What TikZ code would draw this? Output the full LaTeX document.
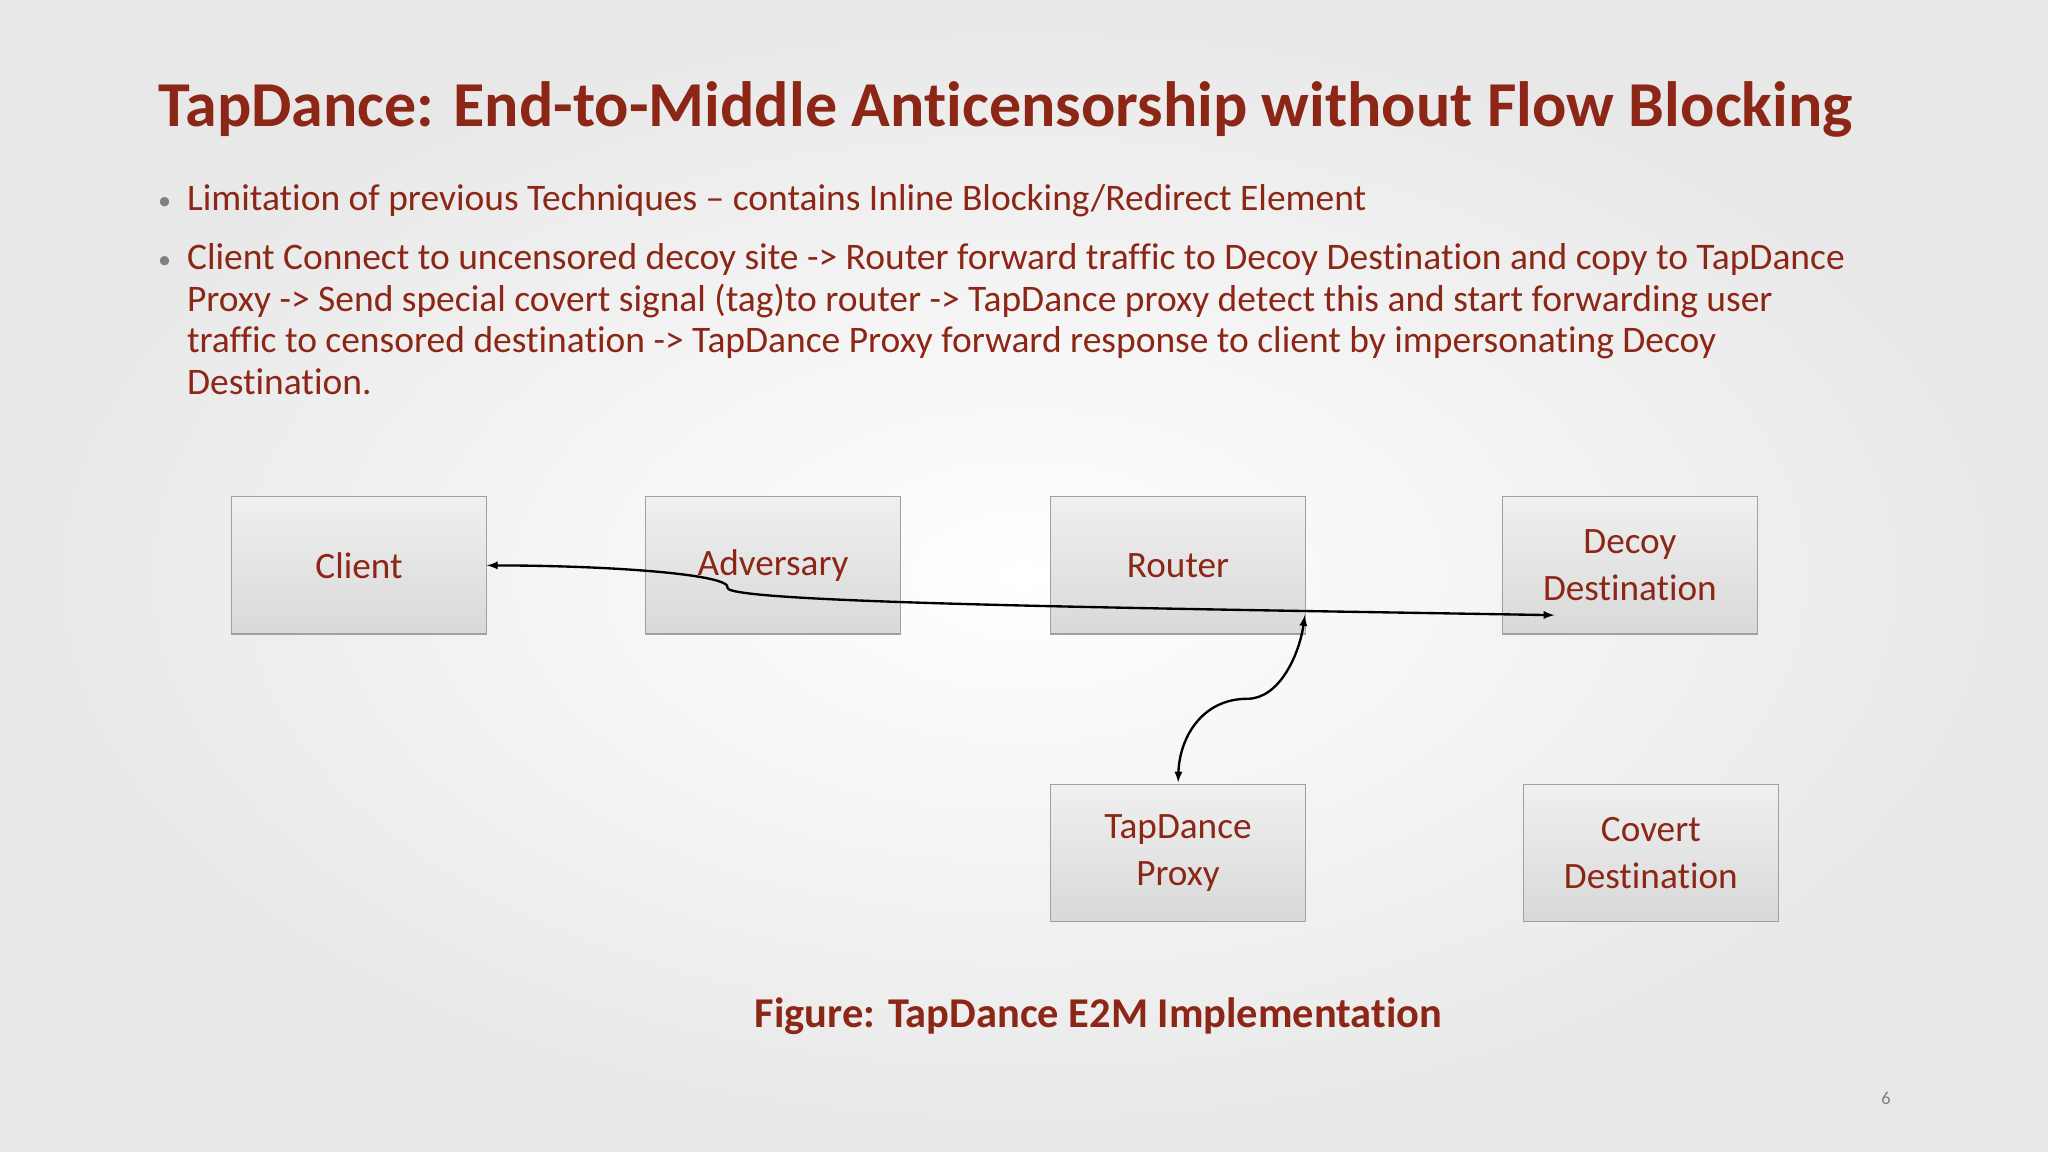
\documentclass[tikz,border=0pt]{standalone}
\usepackage{fontspec}
\setmainfont[Ligatures=NoCommon]{Carlito}
\definecolor{dred}{RGB}{140,38,22}
\definecolor{bx}{RGB}{160,160,160}
\begin{document}
\begin{tikzpicture}[x=1pt,y=-1pt,
  box/.style={draw=bx,line width=0.8pt,top color=gray!12,bottom color=gray!30,minimum width=195pt,minimum height=105pt,anchor=north west,text=dred,font=\fontsize{28.5}{36}\selectfont,align=center,inner sep=0pt},
  bul/.style={anchor=north west,text=dred,font=\fontsize{28.7}{32}\selectfont,align=left,inner sep=0pt},
  con/.style={line width=1.8pt,-latex}]
\useasboundingbox (0,0) rectangle (1568,882);
\shade[inner color=white,outer color=gray!18] (0,0) rectangle (1568,882);
\node[anchor=west,text=dred,font=\fontsize{49}{58}\selectfont\bfseries] (title) at (118,84) {TapDance: End-to-Middle Anticensorship without Flow Blocking};
\node[bul] (b1) at (143,141) {Limitation of previous Techniques -- contains Inline Blocking/Redirect Element};
\node[bul] (b2) at (143,186) {Client Connect to uncensored decoy site -> Router forward traffic to Decoy Destination and copy to TapDance\\Proxy -> Send special covert signal (tag)to router -> TapDance proxy detect this and start forwarding user\\traffic to censored destination -> TapDance Proxy forward response to client by impersonating Decoy\\Destination.};
\node[text=gray,font=\fontsize{20}{24}\selectfont] (d1) at (126,156) {•};
\node[text=gray,font=\fontsize{20}{24}\selectfont] (d2) at (126,201) {•};
\node[box] (client) at (177,380) {Client};
\node[box] (adv) at (494,380) {Adversary};
\node[box] (router) at (804,380) {Router};
\node[box] (decoy) at (1150,380) {Decoy\\Destination};
\node[box] (proxy) at (804,600) {TapDance\\Proxy};
\node[box] (covert) at (1166,600) {Covert\\Destination};
\coordinate (cl) at (client.east);
\coordinate (de) at (1190,471);
\draw[con,latex-latex] (cl) .. controls (470,433) and (560,440) .. (557,450) .. controls (555,462) and (900,466) .. (de);
\coordinate (rt) at (999,471);
\coordinate (pt) at (902,599);
\draw[con,latex-latex] (rt) .. controls (995,500) and (980,535) .. (955,535) .. controls (920,535) and (903,565) .. (pt);
\node[text=dred,font=\fontsize{32.5}{38}\selectfont\bfseries] (cap) at (841,778) {Figure: TapDance E2M Implementation};
\node[text=gray,font=\fontsize{14}{16}\selectfont] (pg) at (1444,841) {6};
\end{tikzpicture}
\end{document}
